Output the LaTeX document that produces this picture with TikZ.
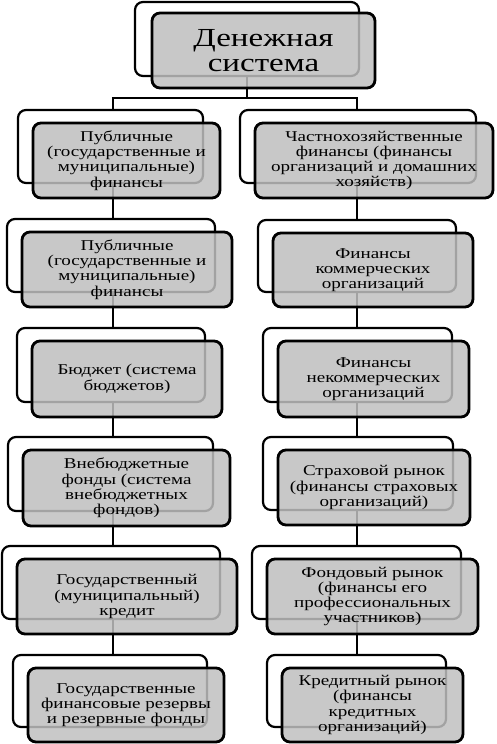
\documentclass[tikz,border=0pt]{standalone}
\usepackage{fontspec}
\setmainfont{Liberation Serif}[FakeStretch=1.27]
\usetikzlibrary{backgrounds}
\tikzset{
  backbox/.style={draw=black, line width=2.2pt, rounded corners=8pt, fill=white, inner sep=0pt},
  frontbox/.style={draw=black, line width=2.8pt, rounded corners=8pt, fill=black!25, fill opacity=0.85, text opacity=1, inner sep=0pt, align=center, font=\fontsize{15}{15.3}\selectfont},
  topfront/.style={frontbox, font=\fontsize{26}{25}\selectfont},
  conn/.style={draw=black, line width=2.4pt}
}
% #1 name, #2 left, #3 top, #4 right, #5 bottom (front box), #6 text
\newcommand\pairbox[6]{%
  \node[backbox, minimum width={#4-#2-2}, minimum height={#5-#3-2}] (#1b) at ({(#2+#4)/2-16},{(#3+#5)/2-14}) {};
  \node[frontbox, minimum width={#4-#2}, minimum height={#5-#3}] (#1) at ({(#2+#4)/2},{(#3+#5)/2}) {#6};
}
\begin{document}
\begin{tikzpicture}[x=1pt,y=-1pt]
\useasboundingbox (0,0) rectangle (496,744);
% top
\node[backbox, minimum width=224, minimum height=74] (topb) at (247,39) {};
\node[topfront, minimum width=223, minimum height=75] (top) at (263.5,50.5) {Денежная\\система};
% left column
\pairbox{l1}{33}{123}{220}{198}{Публичные\\(государственные и\\муниципальные)\\финансы}
\pairbox{l2}{22}{232}{232}{307}{Публичные\\(государственные и\\муниципальные)\\финансы}
\pairbox{l3}{32}{341}{222}{417}{Бюджет (система\\бюджетов)}
\pairbox{l4}{23}{450}{230}{526}{Внебюджетные\\фонды (система\\внебюджетных\\фондов)}
\pairbox{l5}{17}{559}{237}{634}{Государственный\\(муниципальный)\\кредит}
\pairbox{l6}{28}{668}{224}{742}{Государственные\\финансовые резервы\\и резервные фонды}
% right column
\pairbox{r1}{255}{123}{493}{198}{Частнохозяйственные\\финансы (финансы\\организаций и домашних\\хозяйств)}
\pairbox{r2}{273}{233}{473}{307}{Финансы\\коммерческих\\организаций}
\pairbox{r3}{278}{341}{469}{417}{Финансы\\некоммерческих\\организаций}
\pairbox{r4}{278}{450}{470}{525}{Страховой рынок\\(финансы страховых\\организаций)}
\pairbox{r5}{267}{559}{478}{634}{Фондовый рынок\\(финансы его\\профессиональных\\участников)}
\pairbox{r6}{282}{668}{463}{742}{Кредитный рынок\\(финансы\\кредитных\\организаций)}
\coordinate (barL) at (113,98);
\coordinate (barR) at (357,98);
\begin{scope}[on background layer]
\draw[conn] (topb.south) -- (topb.south |- barL);
\draw[conn] ([xshift=-1.2pt]barL) -- ([xshift=1.2pt]barR);
\draw[conn] (barL) -- (barL |- l6b.north);
\draw[conn] (barR) -- (barR |- r6b.north);
\end{scope}
\end{tikzpicture}
\end{document}
